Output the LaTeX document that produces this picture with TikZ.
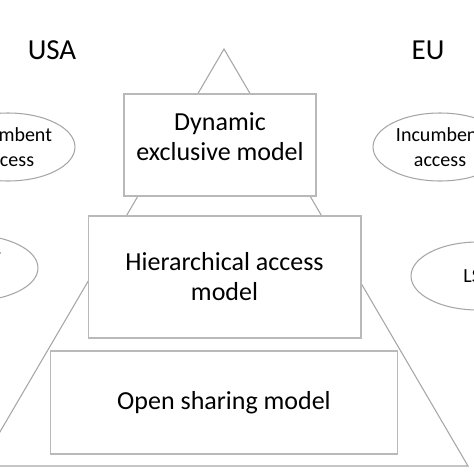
\documentclass[tikz,border=0pt]{standalone}
\usepackage{fontspec}
\setmainfont{Carlito}
\usepackage{tikz}
\usetikzlibrary{shapes.geometric}
\colorlet{lineGray}{gray!70}
\colorlet{boxGray}{gray!55}
\newcommand{\modelfont}{\fontsize{14.8}{17.1}\selectfont}
\newcommand{\ovalfont}{\fontsize{11.4}{14.2}\selectfont}
\newcommand{\regionfont}{\fontsize{16.5}{19}\selectfont}

\begin{document}
\begin{tikzpicture}[x=0.02cm, y=-0.02cm, every node/.style={align=center, inner sep=0pt}]
        \useasboundingbox (0,0) rectangle (474,474);
        \clip (0,0) rectangle (474,474);
        \fill[white] (0,0) rectangle (474,474);
        % pyramid outline
        \draw[lineGray, line width=0.6pt] (224,49) -- (468,466) -- (-20,466) -- cycle;

        \node[font=\regionfont] (usa) at (52,50) {USA};
        \node[font=\regionfont] (eu) at (428,50) {EU};

        \node[draw=boxGray, fill=white, line width=0.6pt, minimum width=3.84cm, minimum height=2.04cm] (dynamic) at (220,145) {};
        \node[font=\modelfont] (dynamicText) at (220,137)
            {Dynamic\\exclusive model};
        \node[draw=boxGray, fill=white, line width=0.6pt, minimum width=5.46cm, minimum height=2.44cm, font=\modelfont] (hierarchical) at (224.5,277)
            {Hierarchical access\\model};
        \node[draw=boxGray, fill=white, line width=0.6pt, minimum width=6.96cm, minimum height=2.06cm, font=\modelfont] (open) at (224,402.5)
            {Open sharing model};

        \node[ellipse, draw=lineGray, fill=white, line width=0.6pt, minimum width=2.68cm, minimum height=1.36cm, font=\ovalfont] (usIncumbent) at (8,147)
            {Incumbent\\access};
        \node[ellipse, draw=lineGray, fill=white, line width=0.6pt, minimum width=2.68cm, minimum height=1.36cm, font=\ovalfont] (euIncumbent) at (440,147)
            {Incumbent\\access};
        \node[ellipse, draw=lineGray, fill=white, line width=0.6pt, minimum width=2.68cm, minimum height=1.32cm, font=\ovalfont] (usPriority) at (-29,268)
            {Priority\\access};
        \node[ellipse, draw=lineGray, fill=white, line width=0.6pt, minimum width=2.68cm, minimum height=1.36cm, font=\ovalfont] (euLsa) at (478,276)
            {LSA};
    \end{tikzpicture}
\end{document}
